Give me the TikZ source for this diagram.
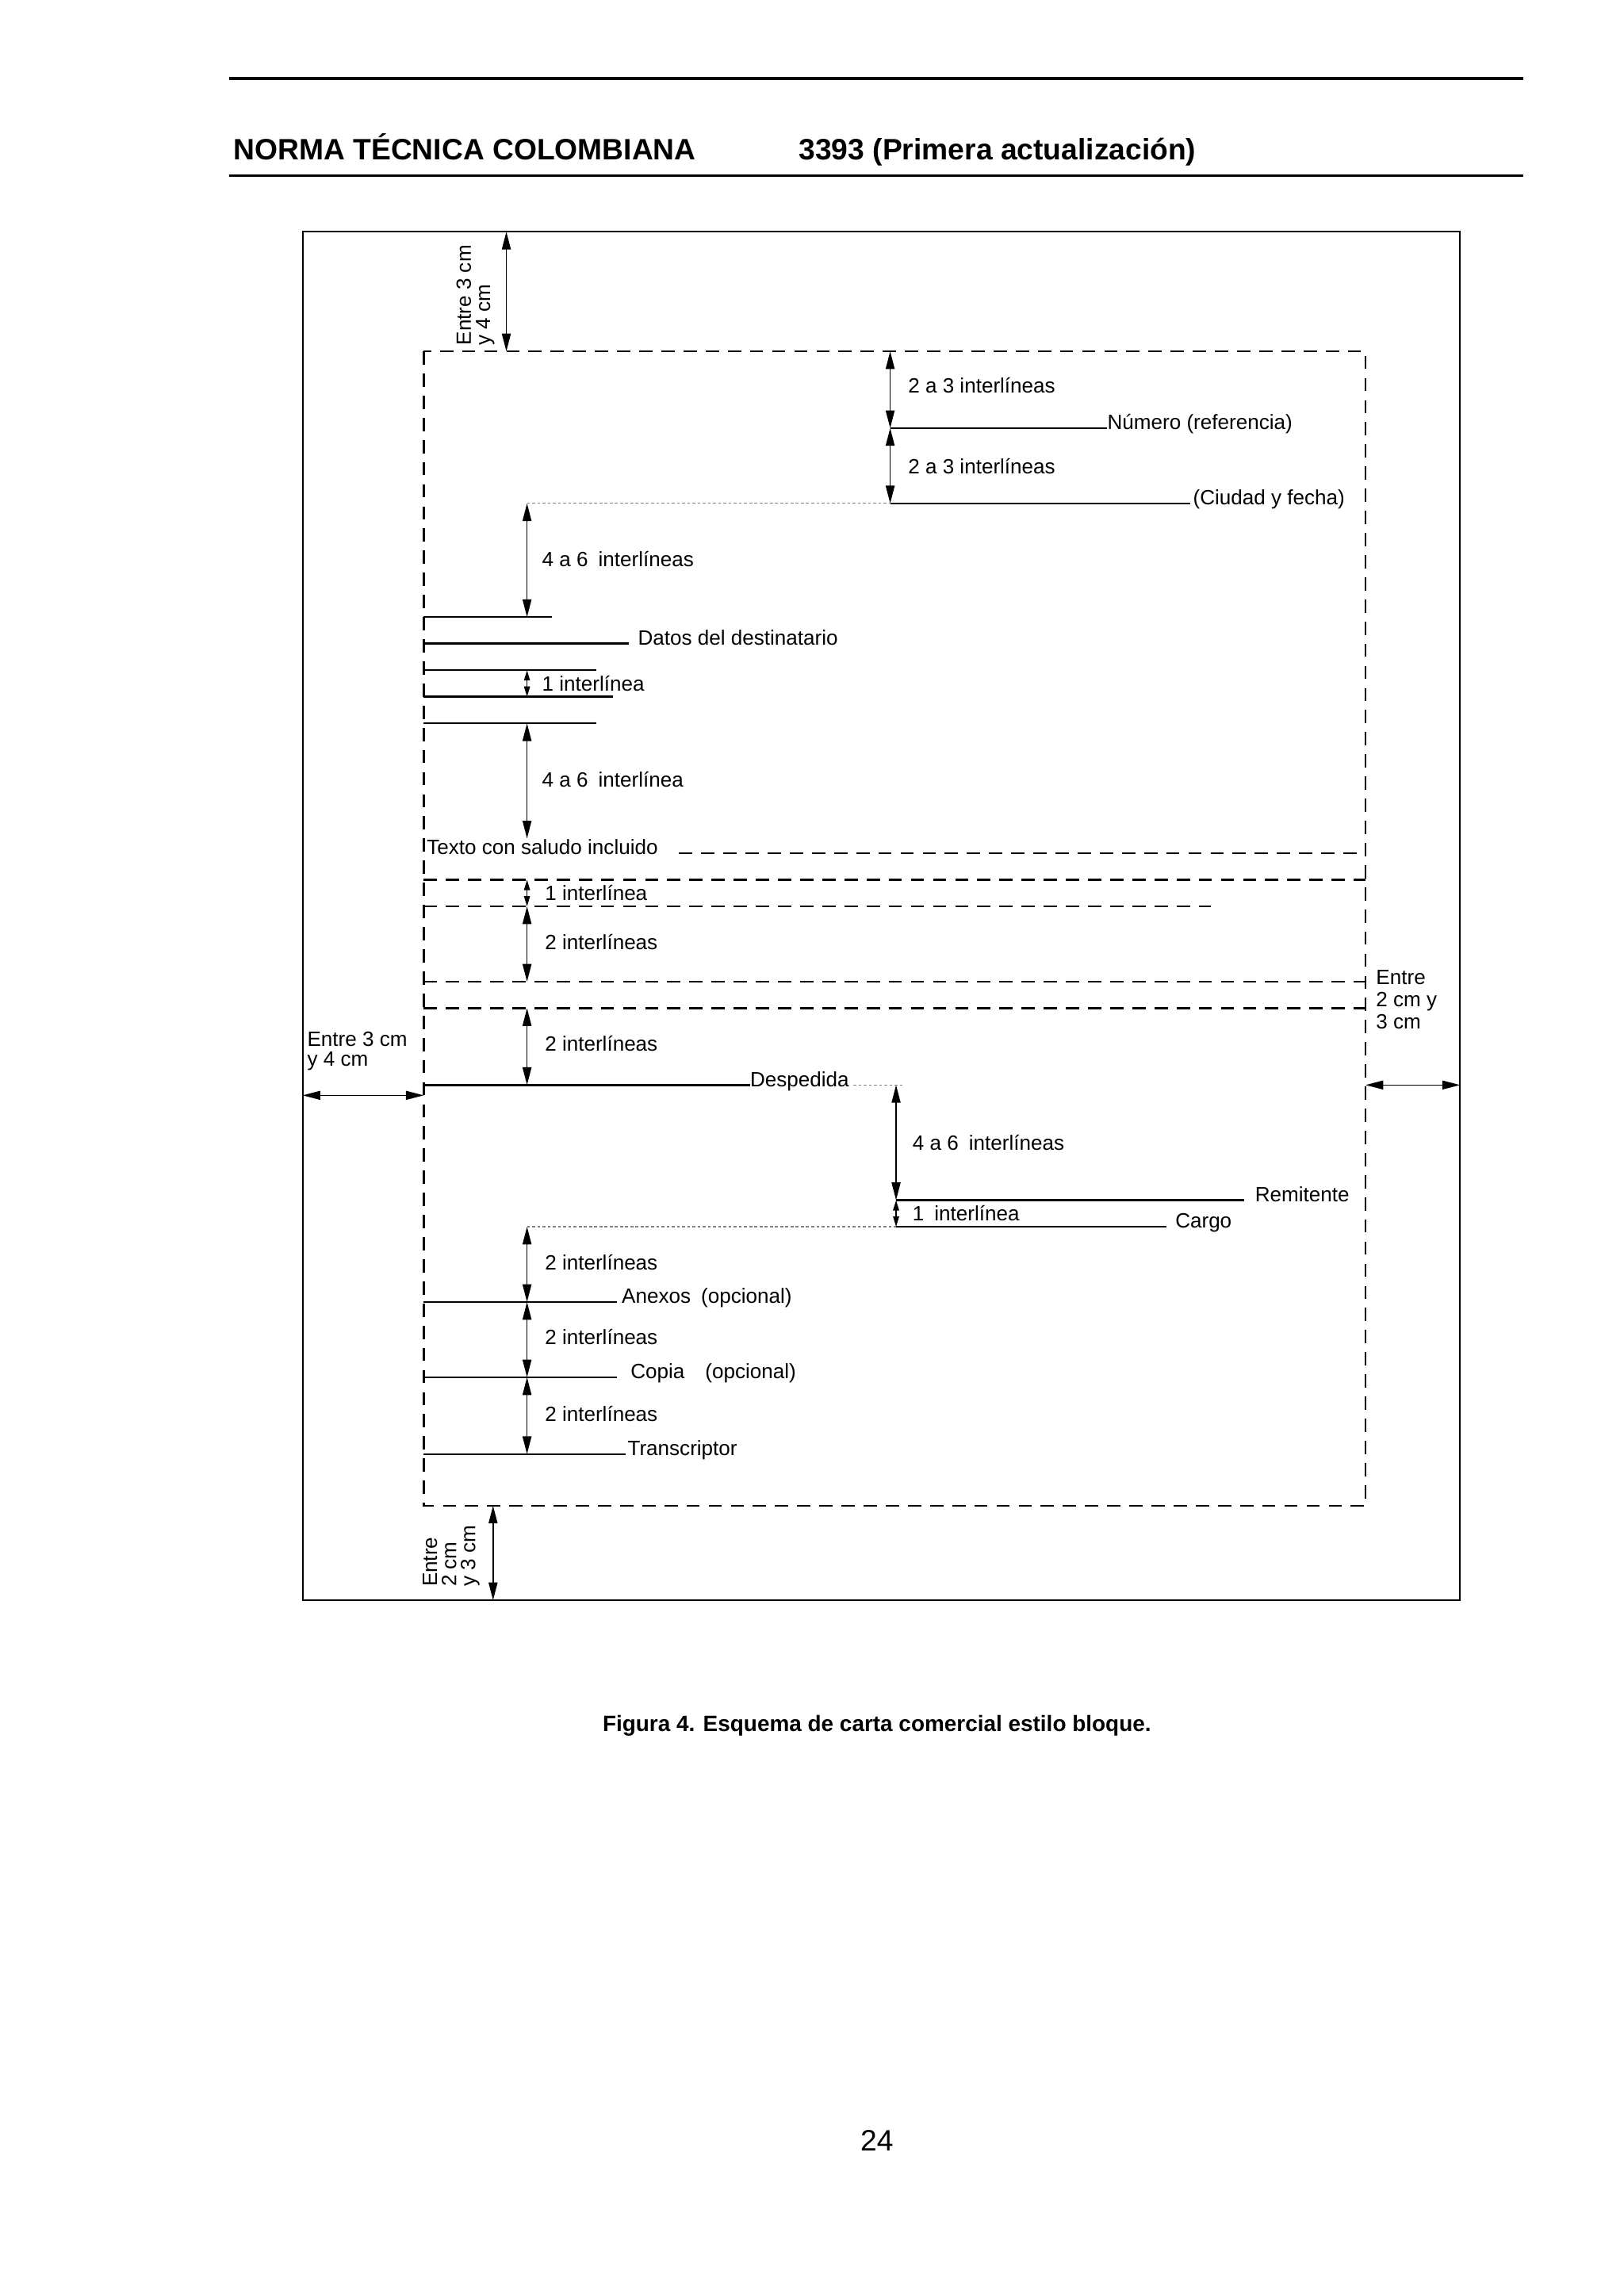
\documentclass[tikz,border=0pt]{standalone}
\usepackage{fontspec}
\setmainfont{Liberation Sans}
\usetikzlibrary{arrows.meta,positioning}
\tikzset{
  dim/.style={{Triangle[length=12pt,width=6pt]}-{Triangle[length=12pt,width=6pt]}, line width=0.8pt},
  rule/.style={line width=1.3pt},
  dashline/.style={line width=1.3pt, dash pattern=on 9pt off 6pt},
  dots/.style={line width=0.6pt, gray, dash pattern=on 2pt off 1.5pt},
  lbl/.style={anchor=base west, inner sep=0pt, font=\fontsize{14}{16}\selectfont},
}
\begin{document}
\begin{tikzpicture}[x=1pt,y=-1pt]
        \useasboundingbox (0,0) rectangle (1100,1554);
        % header
        \draw[line width=2pt] (155,53) -- (1032,53);
        \draw[line width=2pt] (155,119) -- (1032,119);
        \node[lbl, font=\fontsize{20}{22}\selectfont\bfseries] (norma) at (158,108) {NORMA TÉCNICA COLOMBIANA};
        \node[lbl, font=\fontsize{20}{22}\selectfont\bfseries] (num) at (541,108) {3393 (Primera actualización)};

        % page and margins
        \draw[line width=1pt] (205,157) rectangle (989,1084);
        \draw[dashline] (287,238) rectangle (925,1020);

        \coordinate (t1) at (343,157); \coordinate (t2) at (343,238);
        \draw[dim] (t1) -- (t2);
        \node[lbl, rotate=90, align=left, font=\fontsize{14}{13}\selectfont] (topm) at (332,234) {Entre 3 cm\\y 4 cm};

        \coordinate (b1) at (334,1020); \coordinate (b2) at (334,1084);
        \draw[dim] (b1) -- (b2);
        \node[lbl, rotate=90, align=left, font=\fontsize{14}{13}\selectfont] (botm) at (322,1075) {Entre\\2 cm\\y 3 cm};

        \coordinate (l1) at (205,742); \coordinate (l2) at (287,742);
        \draw[dim] (l1) -- (l2);
        \node[lbl, align=left, font=\fontsize{14}{13}\selectfont] (leftm) at (208,722) {Entre 3 cm\\y 4 cm};

        \coordinate (r1) at (925,735); \coordinate (r2) at (989,735);
        \draw[dim] (r1) -- (r2);
        \node[lbl, align=left, font=\fontsize{14}{15}\selectfont] (rightm) at (932,697) {Entre\\2 cm y\\3 cm};

        % number and date
        \coordinate (n0) at (603,238); \coordinate (n1) at (603,290); \coordinate (n2) at (603,341);
        \draw[dim] (n0) -- (n1);
        \draw[dim] (n1) -- (n2);
        \node[lbl] (sep1) at (615,266) {2 a 3 interlíneas};
        \node[lbl] (sep2) at (615,321) {2 a 3 interlíneas};
        \coordinate (ne) at (750,290); \coordinate (ce) at (806,341); \coordinate (cd) at (357,341);
        \draw[rule] (n1) -- (ne);
        \node[lbl] (numero) at (750,291) {Número (referencia)};
        \draw[rule] (n2) -- (ce);
        \node[lbl] (ciudad) at (808,342) {(Ciudad y fecha)};
        \draw[dots] (cd) -- (n2);

        % addressee
        \coordinate (d0) at (357,418);
        \draw[dim] (cd) -- (d0);
        \node[lbl] (sep3) at (367,384) {4 a 6\enspace interlíneas};
        \draw[rule] (287,418) -- (374,418);
        \draw[rule] (287,436) -- (426,436);
        \node[lbl] (datos) at (432,437) {Datos del destinatario};
        \draw[rule] (287,454) -- (404,454);
        \draw[rule] (287,472) -- (415,472);
        \draw[rule] (287,490) -- (404,490);
        \coordinate (d1) at (357,454); \coordinate (d2) at (357,472);
        \draw[dim, {Triangle[length=7pt,width=4pt]}-{Triangle[length=7pt,width=4pt]}] (d1) -- (d2);
        \node[lbl] (sep4) at (367,468) {1 interlínea};
        \coordinate (d3) at (357,490); \coordinate (d4) at (357,568);
        \draw[dim] (d3) -- (d4);
        \node[lbl] (sep5) at (367,533) {4 a 6\enspace interlínea};

        % body text
        \node[lbl] (texto) at (289,579) {Texto con saludo incluido};
        \draw[dashline] (460,578) -- (925,578);
        \draw[dashline] (287,596) -- (925,596);
        \draw[dashline] (287,614) -- (820,614);
        \draw[dashline] (287,665) -- (925,665);
        \draw[dashline] (287,683) -- (925,683);
        \coordinate (p1) at (357,596); \coordinate (p2) at (357,614);
        \coordinate (p3) at (357,665); \coordinate (p4) at (357,683); \coordinate (p5) at (357,735);
        \draw[dim, {Triangle[length=7pt,width=4pt]}-{Triangle[length=7pt,width=4pt]}] (p1) -- (p2);
        \node[lbl] (sep6) at (369,610) {1 interlínea};
        \draw[dim] (p2) -- (p3);
        \node[lbl] (sep7) at (369,643) {2 interlíneas};
        \draw[dim] (p4) -- (p5);
        \node[lbl] (sep8) at (369,712) {2 interlíneas};

        % closing and sender
        \draw[rule] (287,735) -- (508,735);
        \node[lbl] (despedida) at (508,736) {Despedida};
        \coordinate (s0) at (607,735); \coordinate (s1) at (607,813); \coordinate (s2) at (607,831);
        \draw[dots] (578,735) -- (612,735);
        \draw[dim] (s0) -- (s1);
        \node[lbl] (sep9) at (618,779) {4 a 6\enspace interlíneas};
        \draw[rule] (s1) -- (843,813);
        \node[lbl] (remitente) at (850,814) {Remitente};
        \draw[dim, {Triangle[length=7pt,width=4pt]}-{Triangle[length=7pt,width=4pt]}] (s1) -- (s2);
        \node[lbl] (sep10) at (618,827) {1\enspace interlínea};
        \draw[rule] (s2) -- (790,831);
        \node[lbl] (cargo) at (796,832) {Cargo};
        \coordinate (a0) at (357,831);
        \draw[dots] (a0) -- (s2);

        % enclosures
        \coordinate (a1) at (357,882); \coordinate (a2) at (357,933); \coordinate (a3) at (357,985);
        \draw[dim] (a0) -- (a1);
        \node[lbl] (sep11) at (369,860) {2 interlíneas};
        \draw[rule] (287,882) -- (418,882);
        \node[lbl] (anexos) at (421,883) {Anexos\enspace(opcional)};
        \draw[dim] (a1) -- (a2);
        \node[lbl] (sep12) at (369,911) {2 interlíneas};
        \draw[rule] (287,933) -- (418,933);
        \node[lbl] (copia) at (427,934) {Copia\quad(opcional)};
        \draw[dim] (a2) -- (a3);
        \node[lbl] (sep13) at (369,963) {2 interlíneas};
        \draw[rule] (287,985) -- (424,985);
        \node[lbl] (transcriptor) at (425,986) {Transcriptor};

        % caption
        \node[anchor=base, font=\fontsize{15}{17}\selectfont\bfseries] (caption) at (594,1173) {Figura 4. Esquema de carta comercial estilo bloque.};
        \node[anchor=base, font=\fontsize{20}{22}\selectfont] (page) at (594,1457) {24};
\end{tikzpicture}
\end{document}
